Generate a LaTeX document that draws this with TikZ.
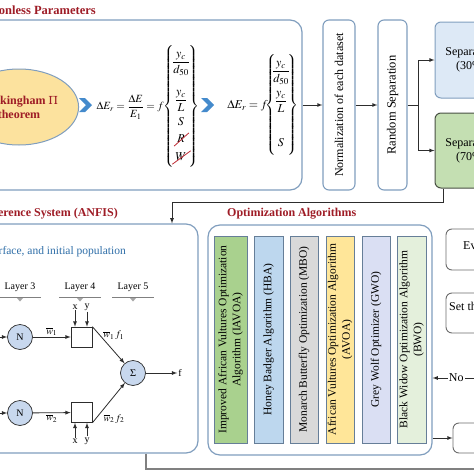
\documentclass[tikz,border=0pt]{standalone}
\usepackage{amsmath,amsfonts,amssymb}
\usepackage{mathptmx}
\usepackage[no-math]{fontspec}
\setmainfont{Liberation Serif}
\usetikzlibrary{arrows, calc, shapes.geometric}

\definecolor{boxline}{RGB}{128,158,190}
\definecolor{titlered}{RGB}{158,28,38}
\definecolor{ellfill}{RGB}{252,226,158}
\definecolor{chevblue}{RGB}{68,138,204}
\definecolor{sepblue}{RGB}{221,233,246}
\definecolor{sepgreen}{RGB}{196,223,178}
\definecolor{neuronblue}{RGB}{200,216,238}
\definecolor{popblue}{RGB}{46,110,168}
\definecolor{strikered}{RGB}{190,40,50}
\definecolor{algA}{RGB}{169,209,142}
\definecolor{algB}{RGB}{189,215,238}
\definecolor{algC}{RGB}{217,217,217}
\definecolor{algD}{RGB}{255,230,153}
\definecolor{algE}{RGB}{218,223,243}
\definecolor{algF}{RGB}{228,240,220}
\definecolor{wire}{RGB}{45,45,45}

\begin{document}
\begin{tikzpicture}[x=1pt, y=-1pt, >=latex,
            font=\fontsize{12}{14}\selectfont,
            panel/.style={
                draw=boxline,
                line width=1.2pt,
                rounded corners=12pt,
                fill=white
                },
            stage/.style={
                draw=boxline,
                line width=1.1pt,
                rounded corners=6pt,
                fill=white,
                rotate=90,
                minimum width=170pt,
                inner sep=0pt
                },
            sepbox/.style={
                draw=boxline,
                line width=1pt,
                rounded corners=6pt,
                align=center,
                minimum width=72pt
                },
            stepbox/.style={
                draw=wire!70,
                line width=0.9pt,
                rounded corners=6pt,
                fill=white
                },
            algbox/.style={
                draw=boxline!80!black,
                line width=0.7pt,
                rotate=90,
                minimum width=207pt,
                inner sep=1pt,
                align=center,
                font=\fontsize{11.5}{14}\selectfont
                },
            heading/.style={font=\fontsize{12}{14}\selectfont\bfseries, text=titlered, inner sep=0pt},
            eqtext/.style={inner sep=0pt, font=\fontsize{12}{14}\selectfont},
            neuron/.style={circle, draw=wire, fill=neuronblue, line width=0.7pt, minimum size=25pt, inner sep=0pt, font=\fontsize{10}{12}\selectfont},
            prodbox/.style={draw=wire, line width=0.7pt, minimum width=21pt, minimum height=20pt, inner sep=0pt},
            small/.style={font=\fontsize{10}{12}\selectfont, inner sep=1pt},
            link/.style={draw=wire, line width=0.8pt},
            strike/.style={draw=strikered, line width=0.8pt},
            chev/.pic={\fill[chevblue] (-6,-7) -- (0,-7) -- (7,0) -- (0,7) -- (-6,7) -- (1,0) -- cycle;}
            ]

        \useasboundingbox (0,0) rectangle (474,474);
        \clip (0,0) rectangle (474,474);

        % dimensionless parameters
        \node[heading, anchor=east, font=\fontsize{12.5}{14}\selectfont\bfseries] (dimtitle) at (96,10) {Dimensionless Parameters};
        \node[panel, minimum width=362pt, minimum height=170pt] (dim) at (121,105) {};
        \node[ellipse, draw=boxline, line width=1pt, fill=ellfill, minimum width=118pt, minimum height=76pt,
              align=center, text=titlered, font=\fontsize{12}{14}\selectfont\bfseries] (pi) at (19,107) {Buckingham $\Pi$\\theorem};
        \pic at (85,105) {chev};
        \pic at (207,105) {chev};

        \node[eqtext, anchor=east, font=\fontsize{11}{13}\selectfont] (eq1) at (164,107) {$\Delta E_r=\dfrac{\Delta E}{E_1}=f$};
        \node[eqtext] (lb1) at (169,106.5) {$\left\{\vrule height 58pt depth 58pt width 0pt\right.$};
        \node[eqtext] (a1) at (181,64) {$\dfrac{y_c}{d_{50}}$};
        \node[eqtext] (b1) at (181,101) {$\dfrac{y_c}{L}$};
        \node[eqtext] (c1) at (181,122) {$S$};
        \node[eqtext] (d1) at (181,139) {$R$};
        \node[eqtext] (e1) at (181,157) {$W$};
        \node[eqtext] (rb1) at (193,106.5) {$\left.\vrule height 58pt depth 58pt width 0pt\right\}$};
        \draw[strike] ([shift={(-3,3)}]d1.south west) -- ([shift={(4,-2)}]d1.north east);
        \draw[strike] ([shift={(-3,3)}]e1.south west) -- ([shift={(4,-2)}]e1.north east);

        \node[eqtext, anchor=east] (eq2) at (268,106) {$\Delta E_r=f$};
        \node[eqtext] (lb2) at (271,106) {$\left\{\vrule height 49pt depth 49pt width 0pt\right.$};
        \node[eqtext] (a2) at (281,73) {$\dfrac{y_c}{d_{50}}$};
        \node[eqtext] (b2) at (281,102) {$\dfrac{y_c}{L}$};
        \node[eqtext] (c2) at (281,143) {$S$};
        \node[eqtext] (rb2) at (292,106) {$\left.\vrule height 49pt depth 49pt width 0pt\right\}$};

        % data preparation
        \node[stage, minimum height=32pt] (norm) at (339,105) {Normalization of each dataset};
        \node[stage, minimum height=29pt, font=\fontsize{12.5}{14}\selectfont] (rand) at (392.5,105) {Random Separation};
        \node[sepbox, fill=sepblue, minimum height=76pt] (sep30) at (471,60) {Separation\\(30\%)};
        \node[sepbox, fill=sepgreen, draw=wire!50!sepgreen!60!black, minimum height=75pt] (sep70) at (471,150.5) {Separation\\(70\%)};

        \draw[link, ->] (dim) -- (norm);
        \draw[link, ->] (norm) -- (rand);
        \coordinate (split) at (418,105);
        \draw[link] (rand) -- (split);
        \draw[link, ->] (split) |- (sep30);
        \draw[link, ->] (split) |- (sep70);

        % anfis
        \node[heading, anchor=east] (anfistitle) at (118,214) {Adaptive Neuro-Fuzzy Inference System (ANFIS)};
        \node[panel, minimum width=258pt, minimum height=229pt] (anfis) at (69,338.5) {};
        \coordinate (drop) at (443,202);
        \draw[link, ->] (drop |- sep70.south) -- (drop) -| ([xshift=103pt]anfis.north);
        \node[anchor=east, inner sep=0pt, text=popblue, font=\fontsize{11.5}{14}\selectfont] (poptext) at (126,252)
             {Define the inputs, outputs, fuzzy interface, and initial population};

        \foreach \cx/\num in {20/3, 80/4, 133/5} {
            \node[small] (layer\num) at (\cx,287) {Layer \num};
            \draw[gray, line width=0.8pt] (\cx-21,297) -- (\cx+21,297);
            \fill[gray!70] (\cx-3,298) -- (\cx+3,298) -- (\cx,301.5) -- cycle;
        }

        \node[neuron] (n1) at (20,337) {N};
        \node[neuron] (n2) at (20,413) {N};
        \node[prodbox] (p1) at (81.5,337) {};
        \node[prodbox] (p2) at (81.5,412.5) {};
        \node[neuron] (sum) at (133,373) {$\Sigma$};
        \node[small] (fout) at (180,373) {f};
        \node[small] (x1) at (75,307) {x};
        \node[small] (y1) at (87,307) {y};
        \node[small] (x2) at (75,441) {x};
        \node[small] (y2) at (87,441) {y};
        \coordinate (in1) at (-20,337);
        \coordinate (in2) at (-20,413);

        \draw[link, ->] (in1) -- (n1);
        \draw[link, ->] (in2) -- (n2);
        \draw[link, ->] (n1) -- node[small, above] {$\overline{w}_1$} (p1);
        \draw[link, ->] (n2) -- node[small, below] {$\overline{w}_2$} (p2);
        \draw[link, ->] (p1.north east) -- node[small, pos=0.3, anchor=west, yshift=2pt] {$\overline{w}_1\,f_1$} (sum);
        \draw[link, ->] (p2.south east) -- node[small, pos=0.3, anchor=west, yshift=-8pt] {$\overline{w}_2\,f_2$} (sum);
        \draw[link, ->] (sum) -- (fout);
        \draw[link, ->] (x1) -- (x1 |- p1.north);
        \draw[link, ->] (y1) -- (y1 |- p1.north);
        \draw[link, ->] (x2) -- (x2 |- p2.south);
        \draw[link, ->] (y2) -- (y2 |- p2.south);

        \coordinate (outlet) at (480,469);
        \draw[draw=gray, line width=2pt] ([xshift=77pt]anfis.south) |- (outlet);

        % optimization algorithms
        \node[heading, anchor=west] (opttitle) at (227,214) {Optimization Algorithms};
        \node[panel, minimum width=224pt, minimum height=230pt] (opt) at (320,340) {};
        \foreach \nm/\cx/\bw/\col/\txt in {
            iavoa/230.5/33/algA/{Improved African Vultures Optimization\\Algorithm (IAVOA)},
            hba/268.5/29/algB/{Honey Badger Algorithm (HBA)},
            mbo/304/28/algC/{Monarch Butterfly Optimization (MBO)},
            avoa/340/28/algD/{African Vultures Optimization Algorithm\\(AVOA)},
            gwo/376/28/algE/{Grey Wolf Optimizer (GWO)},
            bwo/411.5/29/algF/{Black Widow Optimization Algorithm\\(BWO)}} {
            \node[algbox, fill=\col, minimum height=\bw pt] (\nm) at (\cx,339.5) {\txt};
        }

        % right column
        \node[stepbox, minimum width=74pt, minimum height=41pt] (evalbox) at (483,249.5) {};
        \node[anchor=west, inner sep=0pt] (evaltext) at (463,245) {Evaluate the};
        \node[stepbox, minimum width=74pt, minimum height=40pt] (setbox) at (483,313) {};
        \node[anchor=west, inner sep=0pt] (settext) at (449,306) {Set the};
        \node[stepbox, minimum width=68pt, minimum height=30pt] (finbox) at (487,438) {};

        \coordinate (noin) at (480,378);
        \draw[link, ->] (noin) -- node[fill=white, inner sep=1pt] {No} (noin -| opt.east);
        \draw[link, ->] (opt.east |- finbox) -- (finbox);

    \end{tikzpicture}
\end{document}
